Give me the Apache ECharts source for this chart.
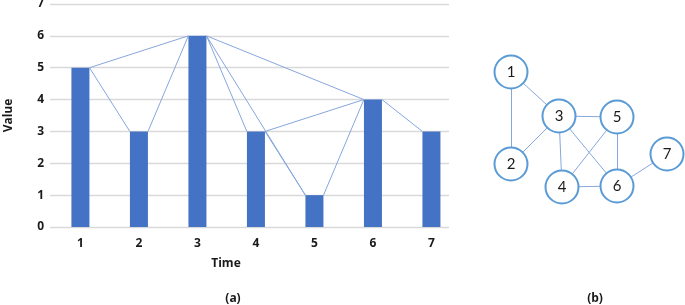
<!DOCTYPE html>
<html><head><meta charset="utf-8">
<script src="https://cdn.jsdelivr.net/npm/echarts@6/dist/echarts.min.js"></script>
<style>html,body{margin:0;padding:0;background:#fff}#c{width:685px;height:305px}</style>
</head><body><div id="c"></div>
<script>
var times = [1, 2, 3, 4, 5, 6, 7];
var values = [5, 3, 6, 3, 1, 4, 3];
var yTicks = [0, 1, 2, 3, 4, 5, 6, 7];
var edges = [[1,2],[1,3],[2,3],[3,4],[3,5],[3,6],[4,5],[4,6],[5,6],[6,7]];
var nodeNames = ['1','2','3','4','5','6','7'];
var nodeX = [51, 51, 99, 102, 157, 157, 207];
var nodeY = [42, 134, 86, 157, 87, 156, 124];

var barHalf = 0.155;
var font = 'Lato';
var boldFont = 'Open Sans';
var chart = echarts.init(document.getElementById('c'));
var lineData = edges.map(function(e){
  var a = e[0]-1, b = e[1]-1;
  return {coords: [[times[a] + barHalf, values[a]], [times[b] - barHalf, values[b]]]};
});
chart.setOption({
  animation: false,
  textStyle: {fontFamily: font},
  grid: [
    {left: 50, top: 4, width: 399, height: 223, outerBoundsMode: 'none', containLabel: false},
    {left: 460, top: 30, width: 225, height: 200, outerBoundsMode: 'none', containLabel: false}
  ],
  xAxis: [
    {type: 'value', gridIndex: 0, min: 0.48, max: 7.3,
     name: 'Time', nameLocation: 'middle', nameGap: 31,
     nameTextStyle: {fontFamily: boldFont, fontWeight: 'bold', fontSize: 12, color: '#1a1a1a', padding: [0, 47, 0, 0]},
     axisLine: {show: false}, axisTick: {show: false}, splitLine: {show: false},
     axisLabel: {customValues: times, margin: 11, fontWeight: 'bold', fontSize: 12, color: '#1a1a1a', fontFamily: boldFont}},
    {type: 'value', gridIndex: 1, min: 0, max: 225, show: false}
  ],
  yAxis: [
    {type: 'value', gridIndex: 0, min: yTicks[0], max: yTicks[yTicks.length-1], interval: 1,
     name: 'Value', nameLocation: 'middle', nameGap: 35, nameRotate: 90,
     nameTextStyle: {fontFamily: boldFont, fontWeight: 'bold', fontSize: 12, color: '#1a1a1a'},
     axisLine: {show: false}, axisTick: {show: false},
     splitLine: {lineStyle: {color: '#D9D9D9', width: 1.4}},
     axisLabel: {margin: 6, fontWeight: 'bold', fontSize: 12, color: '#1a1a1a', fontFamily: boldFont}},
    {type: 'value', gridIndex: 1, min: 0, max: 200, inverse: true, show: false}
  ],
  title: [
    {text: '(a)', left: 228, top: 288, textAlign: 'center',
     textStyle: {fontFamily: boldFont, fontSize: 12, fontWeight: 'bold', color: '#1a1a1a'}},
    {text: '(b)', left: 590, top: 288, textAlign: 'center',
     textStyle: {fontFamily: boldFont, fontSize: 12, fontWeight: 'bold', color: '#1a1a1a'}}
  ],
  series: [
    {type: 'bar', xAxisIndex: 0, yAxisIndex: 0, barWidth: 18,
     itemStyle: {color: '#4472C4'},
     data: times.map(function(t, i){ return [t, values[i]]; })},
    {type: 'lines', coordinateSystem: 'cartesian2d', xAxisIndex: 0, yAxisIndex: 0,
     lineStyle: {color: '#86A6DD', width: 1, opacity: 1}, data: lineData, z: 3},
    {type: 'graph', coordinateSystem: 'cartesian2d', xAxisIndex: 1, yAxisIndex: 1,
     symbol: 'circle', symbolSize: 33,
     itemStyle: {color: '#fff', borderColor: '#5B9BD5', borderWidth: 2},
     label: {show: true, position: 'inside', color: '#1a1a1a', fontSize: 15, fontFamily: font},
     lineStyle: {color: '#86A6DD', width: 1, opacity: 1},
     data: nodeNames.map(function(n, i){ return {name: n, value: [nodeX[i], nodeY[i]]}; }),
     links: edges.map(function(e){ return {source: e[0]-1, target: e[1]-1}; })}
  ]
});
</script></body></html>
